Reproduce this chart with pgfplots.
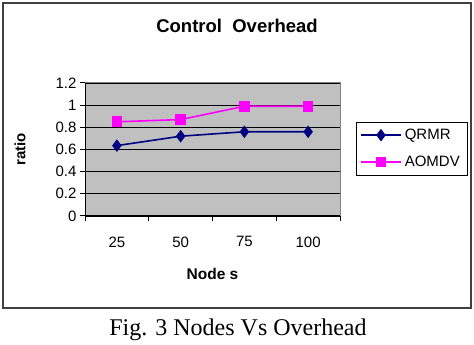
\documentclass[border=0pt]{standalone}
\usepackage{fontspec}
\setmainfont{Liberation Sans}
\newfontfamily\capfont{Liberation Serif}
\usepackage{pgfplots}
\pgfplotsset{compat=1.18}
\definecolor{navyb}{RGB}{0,0,128}
\definecolor{magb}{RGB}{255,0,255}
\definecolor{bggray}{RGB}{192,192,192}
\definecolor{bordergray}{RGB}{128,128,128}
\begin{document}
\begin{tikzpicture}[x=1pt,y=1pt]
\useasboundingbox (0,0) rectangle (474,345);
\fill[white] (0,0) rectangle (474,345);
\draw[line width=2pt, draw=black!75] (3,37) rectangle (471,342);
\node[font=\fontsize{18.5}{20}\selectfont\bfseries, anchor=base] at (237,312) {Control\ \ Overhead};
\node[font=\capfont\fontsize{24}{26}\selectfont, anchor=base] at (238,9) {Fig. 3 Nodes Vs Overhead};
\begin{axis}[
  at={(85pt,129pt)}, anchor=south west,
  scale only axis, width=255pt, height=133pt,
  xmin=0.5, xmax=4.5, ymin=0, ymax=1.2,
  xtick={1,2,3,4}, xticklabels={25,50,75,100},
  minor xtick={0.5,1.5,2.5,3.5,4.5},
  ytick={0,0.2,0.4,0.6,0.8,1,1.2},
  yticklabels={0,0.2,0.4,0.6,0.8,1,1.2},
  axis x line*=bottom, axis y line*=left,
  axis line style={black, line width=1pt},
  tick align=outside,
  major x tick style={draw=none},
  minor tick length=5pt, major tick length=5pt,
  every tick/.style={black, line width=1pt},
  ymajorgrids, grid style={black, line width=0.8pt},
  axis background/.style={fill=bggray, draw=bordergray, line width=1pt},
  /pgf/number format/assume math mode=true,
  tick label style={font=\fontsize{15}{17}\selectfont},
  xticklabel style={yshift=-12pt},
  xlabel={Node s}, ylabel={ratio},
  every axis x label/.style={at={(axis description cs:0.5,-0.474)}, anchor=base, font=\fontsize{15.5}{17}\selectfont\bfseries},
  every axis y label/.style={at={(axis description cs:-0.255,0.5)}, rotate=90, anchor=center, font=\fontsize{15}{17}\selectfont\bfseries},
  legend style={at={(1.498,0.707)}, anchor=north east, draw=black, fill=white,
    font=\fontsize{15}{17}\selectfont, row sep=11pt, inner xsep=4pt, inner ysep=5pt,
    nodes={inner xsep=3pt}},
  legend cell align=left,
  legend image code/.code={\draw[mark repeat=2,mark phase=2,#1] plot coordinates {(0pt,0pt) (20pt,0pt) (40pt,0pt)};},
]
\addplot[color=navyb, line width=1.6pt, mark=diamond*, mark size=5pt, mark options={solid}] coordinates {(1,0.635) (2,0.72) (3,0.76) (4,0.76)};
\addlegendentry{QRMR}
\addplot[color=magb, line width=1.6pt, mark=square*, mark size=4.5pt, mark options={solid}] coordinates {(1,0.85) (2,0.87) (3,0.99) (4,0.99)};
\addlegendentry{AOMDV}
\end{axis}
\end{tikzpicture}
\end{document}
